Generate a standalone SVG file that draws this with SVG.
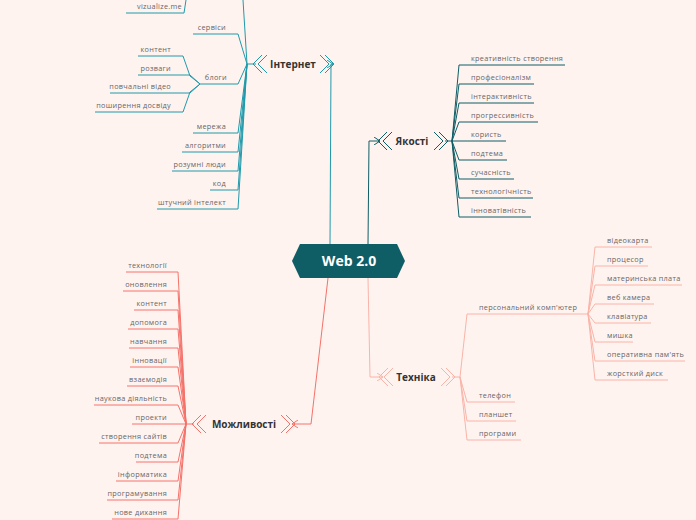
<svg xmlns="http://www.w3.org/2000/svg" width="696" height="520" viewBox="0 0 696 520">
<style>
text{font-family:"Open Sans","Liberation Sans",sans-serif;}
.c{font-size:7.3px;fill:#666;letter-spacing:0.3px}
.m{font-size:10px;font-weight:bold;fill:#333}
.it path,.it line{stroke:#1f9aab;fill:none;stroke-width:1}
.ya path,.ya line{stroke:#0f5e66;fill:none;stroke-width:1}
.te path,.te line{stroke:#f9b4a8;fill:none;stroke-width:1}
.mo path,.mo line{stroke:#f4726a;fill:none;stroke-width:1}
.r{text-anchor:end}
</style>
<defs>
<marker id="a1" markerWidth="8" markerHeight="8" refX="6" refY="4" orient="auto" markerUnits="userSpaceOnUse"><path d="M0,0L6,4L0,8" fill="none" stroke="#1f9aab"/></marker>
<marker id="a2" markerWidth="8" markerHeight="8" refX="6" refY="4" orient="auto" markerUnits="userSpaceOnUse"><path d="M0,0L6,4L0,8" fill="none" stroke="#0f5e66"/></marker>
<marker id="a3" markerWidth="8" markerHeight="8" refX="6" refY="4" orient="auto" markerUnits="userSpaceOnUse"><path d="M0,0L6,4L0,8" fill="none" stroke="#f9b4a8"/></marker>
<marker id="a4" markerWidth="8" markerHeight="8" refX="6" refY="4" orient="auto" markerUnits="userSpaceOnUse"><path d="M0,0L6,4L0,8" fill="none" stroke="#f4726a"/></marker>
</defs>
<rect width="696" height="520" fill="#fff3f0"/>
<g id="connectors">
<path d="M330,244 L331,64 L333,64" stroke="#1f9aab" fill="none" marker-end="url(#a1)"/>
<path d="M368,244 L369,141 L380,141" stroke="#0f5e66" fill="none" marker-end="url(#a2)"/>
<path d="M368,278 L370,377 L383,377" stroke="#f9b4a8" fill="none" marker-end="url(#a3)"/>
<path d="M328,278 L311,424 L292,424" stroke="#f4726a" fill="none" marker-end="url(#a4)"/>
</g>
<g id="center">
<polygon points="300,244 397,244 405,261 397,278 300,278 292,261" fill="#0f5e66"/>
<text x="349" y="266" text-anchor="middle" font-size="14" font-weight="bold" fill="#fff">Web 2.0</text>
</g>
<g id="internet" class="it">
<path d="M267,55 L258,64 L267,73 M262,55 L253,64 L262,73 M320,55 L329,64 L320,73 M325,55 L334,64 L325,73"/>
<text class="m" x="293" y="68" text-anchor="middle">Інтернет</text>
<line x1="256" y1="64" x2="247" y2="64"/>
<path d="M247,64 L243,0"/>
<path d="M126,13 L184,13 L186,0"/>
<text class="c r" x="182" y="9">vizualize.me</text>
<path d="M193,34 L238,34 L247,64"/><text class="c r" x="226" y="30">сервіси</text>
<path d="M200,84 L238,84 L247,64"/><text class="c r" x="227" y="80">блоги</text>
<path d="M138,56 L183,56 L190,76 L200,84"/><text class="c r" x="171" y="52">контент</text>
<path d="M138,75 L190,75 L200,84"/><text class="c r" x="171" y="71">розваги</text>
<path d="M110,93 L190,93 L200,84"/><text class="c r" x="171" y="89">повчальні відео</text>
<path d="M95,112 L183,112 L190,92 L200,84"/><text class="c r" x="171" y="108">поширення досвіду</text>
<path d="M193,133 L238,133 L247,64"/><text class="c r" x="226" y="129">мережа</text>
<path d="M182,152 L238,152 L247,64"/><text class="c r" x="226" y="148">алгоритми</text>
<path d="M172,171 L238,171 L247,64"/><text class="c r" x="226" y="167">розумні люди</text>
<path d="M210,190 L238,190 L247,64"/><text class="c r" x="226" y="186">код</text>
<path d="M157,209 L238,209 L247,64"/><text class="c r" x="226" y="205">штучний інтелект</text>
</g>
<g id="yakosti" class="ya">
<path d="M392,132 L383,141 L392,150 M387,132 L378,141 L387,150 M434,132 L443,141 L434,150 M439,132 L448,141 L439,150"/>
<text class="m" x="412" y="145" text-anchor="middle">Якості</text>
<line x1="445" y1="141" x2="452" y2="141"/>
<path d="M452,141 L459,65 L565,65"/><text class="c" x="471" y="61">креативність створення</text>
<path d="M452,141 L459,84 L534,84"/><text class="c" x="471" y="80">професіоналізм</text>
<path d="M452,141 L459,103 L534,103"/><text class="c" x="471" y="99">інтерактивність</text>
<path d="M452,141 L459,122 L538,122"/><text class="c" x="471" y="118">прогрессивність</text>
<path d="M452,141 L459,141 L506,141"/><text class="c" x="471" y="137">користь</text>
<path d="M452,141 L459,160 L507,160"/><text class="c" x="471" y="156">подтема</text>
<path d="M452,141 L459,179 L514,179"/><text class="c" x="471" y="175">сучасність</text>
<path d="M452,141 L459,198 L533,198"/><text class="c" x="471" y="194">технологічність</text>
<path d="M452,141 L459,217 L531,217"/><text class="c" x="471" y="213">інноватівність</text>
</g>
<g id="tehnika" class="te">
<path d="M393,368 L384,377 L393,386 M388,368 L379,377 L388,386 M441,368 L450,377 L441,386 M446,368 L455,377 L446,386"/>
<text class="m" x="416" y="381" text-anchor="middle">Техніка</text>
<line x1="452" y1="377" x2="460" y2="377"/>
<path d="M460,377 L467,314 L588,314"/><text class="c" x="479" y="310">персональний комп'ютер</text>
<path d="M460,377 L467,402 L515,402"/><text class="c" x="479" y="398">телефон</text>
<path d="M460,377 L467,421 L516,421"/><text class="c" x="479" y="417">планшет</text>
<path d="M460,377 L467,440 L521,440"/><text class="c" x="479" y="436">програми</text>
<path d="M588,314 L595,247 L652,247"/><text class="c" x="607" y="243">відеокарта</text>
<path d="M588,314 L595,266 L648,266"/><text class="c" x="607" y="262">процесор</text>
<path d="M588,314 L595,285 L682,285"/><text class="c" x="607" y="281">материнська плата</text>
<path d="M588,314 L595,304 L654,304"/><text class="c" x="607" y="300">веб камера</text>
<path d="M588,314 L595,323 L651,323"/><text class="c" x="607" y="319">клавіатура</text>
<path d="M588,314 L595,342 L633,342"/><text class="c" x="607" y="338">мишка</text>
<path d="M588,314 L595,361 L685,361"/><text class="c" x="607" y="357">оперативна пам'ять</text>
<path d="M588,314 L595,380 L668,380"/><text class="c" x="607" y="376">жорсткий диск</text>
</g>
<g id="mozhlyvosti" class="mo">
<path d="M206,415 L197,424 L206,433 M201,415 L192,424 L201,433 M281,415 L290,424 L281,433 M286,415 L295,424 L286,433"/>
<text class="m" x="244" y="428" text-anchor="middle">Можливості</text>
<line x1="194" y1="424" x2="186" y2="424"/>
<path d="M126,272 L178,272 L186,424"/><text class="c r" x="167" y="268">технології</text>
<path d="M123,291 L178,291 L186,424"/><text class="c r" x="167" y="287">оновлення</text>
<path d="M134,310 L178,310 L186,424"/><text class="c r" x="167" y="306">контент</text>
<path d="M128,329 L178,329 L186,424"/><text class="c r" x="167" y="325">допомога</text>
<path d="M129,348 L178,348 L186,424"/><text class="c r" x="167" y="344">навчання</text>
<path d="M130,367 L178,367 L186,424"/><text class="c r" x="167" y="363">інновації</text>
<path d="M127,386 L178,386 L186,424"/><text class="c r" x="167" y="382">взаємодія</text>
<path d="M94,405 L178,405 L186,424"/><text class="c r" x="167" y="401">наукова діяльність</text>
<path d="M132,424 L186,424"/><text class="c r" x="167" y="420">проекти</text>
<path d="M99,443 L178,443 L186,424"/><text class="c r" x="167" y="439">створення сайтів</text>
<path d="M136,462 L178,462 L186,424"/><text class="c r" x="167" y="458">подтема</text>
<path d="M116,481 L178,481 L186,424"/><text class="c r" x="167" y="477">інформатика</text>
<path d="M107,500 L178,500 L186,424"/><text class="c r" x="167" y="496">програмування</text>
<path d="M112,519 L178,519 L186,424"/><text class="c r" x="167" y="515">нове дихання</text>
</g>
</svg>
